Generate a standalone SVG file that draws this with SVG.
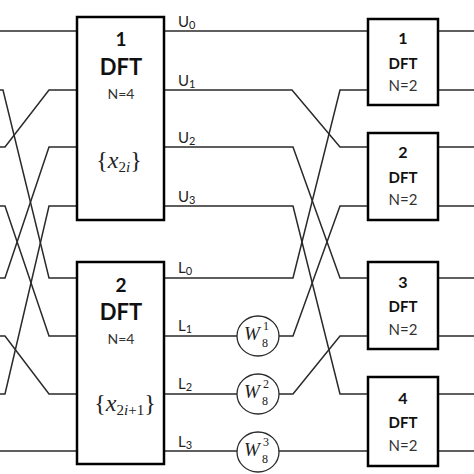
<svg xmlns="http://www.w3.org/2000/svg" width="474" height="474" viewBox="0 0 474 474">
<style>
.w{fill:none;stroke:#2a2a2a;stroke-width:1.5}
.box{fill:#fff;stroke:#000;stroke-width:2.5}
.tw{fill:#fff;stroke:#2a2a2a;stroke-width:1.3}
.n{font-family:Lato,"Liberation Sans",sans-serif;font-weight:bold;fill:#111;text-anchor:middle}
.s{font-family:Lato,"Liberation Sans",sans-serif;fill:#333;text-anchor:middle}
.lb{font-family:Lato,"Liberation Sans",sans-serif;font-size:15px;fill:#222}
.m{font-family:"Liberation Serif",serif;fill:#222}
</style>
<rect width="474" height="474" fill="#fff"/>
<g id="connectors">
<polyline class="w" points="0,31 77,31"/>
<polyline class="w" points="0,90 3,90 49,278 77,278"/>
<polyline class="w" points="0,147 5,147 49,90 77,90"/>
<polyline class="w" points="0,206 5,206 49,336 77,336"/>
<polyline class="w" points="0,278 5,278 49,147 77,147"/>
<polyline class="w" points="0,336 5,336 49,394 77,394"/>
<polyline class="w" points="0,394 5,394 49,206 77,206"/>
<polyline class="w" points="0,451 77,451"/>
<polyline class="w" points="164,31 368,31"/>
<polyline class="w" points="164,90 292,90 340,147 368,147"/>
<polyline class="w" points="164,147 293,147 340,278 368,278"/>
<polyline class="w" points="164,206 293,206 340,394 368,394"/>
<polyline class="w" points="164,278 293,278 340,90 368,90"/>
<polyline class="w" points="164,336 293,336 340,206 368,206"/>
<polyline class="w" points="164,394 293,394 340,336 368,336"/>
<polyline class="w" points="164,451 368,451"/>
<polyline class="w" points="438,31 474,31"/>
<polyline class="w" points="438,90 474,90"/>
<polyline class="w" points="438,147 474,147"/>
<polyline class="w" points="438,206 474,206"/>
<polyline class="w" points="438,278 474,278"/>
<polyline class="w" points="438,336 474,336"/>
<polyline class="w" points="438,394 474,394"/>
<polyline class="w" points="438,451 474,451"/>
</g>
<g id="labels">
<text class="lb" x="178" y="27">U<tspan font-size="11" dy="2">0</tspan></text>
<text class="lb" x="178" y="86">U<tspan font-size="11" dy="2">1</tspan></text>
<text class="lb" x="178" y="143">U<tspan font-size="11" dy="2">2</tspan></text>
<text class="lb" x="178" y="202">U<tspan font-size="11" dy="2">3</tspan></text>
<text class="lb" x="178" y="273">L<tspan font-size="11" dy="2">0</tspan></text>
<text class="lb" x="178" y="331">L<tspan font-size="11" dy="2">1</tspan></text>
<text class="lb" x="178" y="389">L<tspan font-size="11" dy="2">2</tspan></text>
<text class="lb" x="178" y="447">L<tspan font-size="11" dy="2">3</tspan></text>
</g>
<g id="dft4-1">
<rect class="box" x="77" y="17" width="87" height="203"/>
<text class="n" x="121" y="46" font-size="19">1</text>
<text class="n" x="121" y="75" font-size="22">DFT</text>
<text class="s" x="121" y="99" font-size="14">N=4</text>
<text class="m" x="119" y="168" font-size="24" text-anchor="middle">{<tspan font-style="italic">x</tspan><tspan font-size="15" dy="4">2<tspan font-style="italic">i</tspan></tspan><tspan dy="-4">}</tspan></text>
</g>
<g id="dft4-2">
<rect class="box" x="77" y="262" width="87" height="202"/>
<text class="n" x="121" y="292" font-size="19">2</text>
<text class="n" x="121" y="320" font-size="22">DFT</text>
<text class="s" x="121" y="344" font-size="14">N=4</text>
<text class="m" x="125" y="411" font-size="24" text-anchor="middle">{<tspan font-style="italic">x</tspan><tspan font-size="15" dy="4">2<tspan font-style="italic">i</tspan>+1</tspan><tspan dy="-4">}</tspan></text>
</g>
<g id="tw1">
<ellipse class="tw" cx="258" cy="336" rx="21" ry="20"/>
<text class="m" x="244" y="340" font-size="19" font-style="italic">W</text>
<text class="m" x="262" y="347" font-size="12">8</text>
<text class="m" x="263" y="330" font-size="12">1</text>
</g>
<g id="tw2">
<ellipse class="tw" cx="258" cy="394" rx="21" ry="20"/>
<text class="m" x="244" y="398" font-size="19" font-style="italic">W</text>
<text class="m" x="262" y="405" font-size="12">8</text>
<text class="m" x="263" y="388" font-size="12">2</text>
</g>
<g id="tw3">
<ellipse class="tw" cx="258" cy="452" rx="21" ry="20"/>
<text class="m" x="244" y="456" font-size="19" font-style="italic">W</text>
<text class="m" x="262" y="463" font-size="12">8</text>
<text class="m" x="263" y="446" font-size="12">3</text>
</g>
<g id="dft2-1">
<rect class="box" x="368" y="19" width="70" height="86"/>
<text class="n" x="403" y="44" font-size="16">1</text>
<text class="n" x="403" y="69" font-size="15">DFT</text>
<text class="s" x="403" y="91" font-size="15">N=2</text>
</g>
<g id="dft2-2">
<rect class="box" x="368" y="133" width="70" height="87"/>
<text class="n" x="403" y="158" font-size="16">2</text>
<text class="n" x="403" y="183" font-size="15">DFT</text>
<text class="s" x="403" y="205" font-size="15">N=2</text>
</g>
<g id="dft2-3">
<rect class="box" x="368" y="262" width="70" height="87"/>
<text class="n" x="403" y="288" font-size="16">3</text>
<text class="n" x="403" y="312" font-size="15">DFT</text>
<text class="s" x="403" y="335" font-size="15">N=2</text>
</g>
<g id="dft2-4">
<rect class="box" x="368" y="377" width="70" height="89"/>
<text class="n" x="403" y="404" font-size="16">4</text>
<text class="n" x="403" y="428" font-size="15">DFT</text>
<text class="s" x="403" y="451" font-size="15">N=2</text>
</g>
</svg>
